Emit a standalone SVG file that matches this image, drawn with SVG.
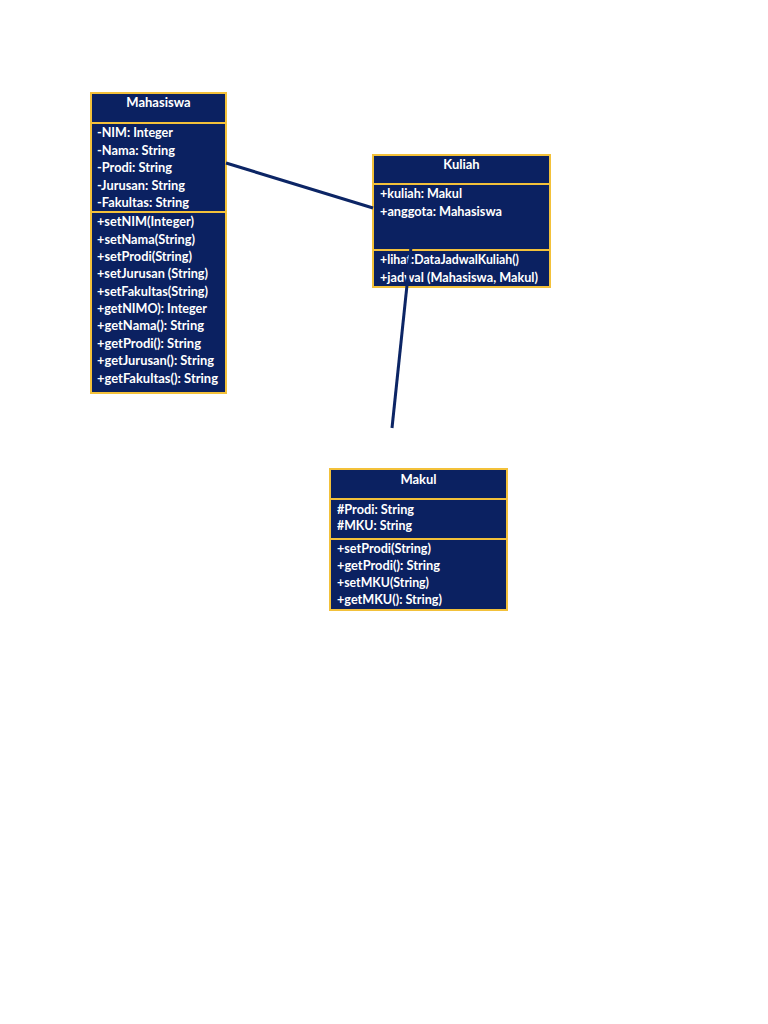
<svg xmlns="http://www.w3.org/2000/svg" width="768" height="1024" viewBox="0 0 768 1024">
<style>
.box{fill:#0b2161;stroke:#f3c13a;stroke-width:2}
.sep{stroke:#f3c13a;stroke-width:2}
.t{font-family:Lato,"Liberation Sans",sans-serif;font-weight:bold;font-size:13px;fill:#ffffff}
.h{text-anchor:middle}
.conn{stroke:#0c2565;stroke-width:3;fill:none}
</style>
<rect width="768" height="1024" fill="#ffffff"/>
<g id="Mahasiswa">
<rect class="box" x="91" y="93" width="135" height="300"/>
<line class="sep" x1="91" y1="123" x2="226" y2="123"/>
<line class="sep" x1="91" y1="212" x2="226" y2="212"/>
<text class="t h" x="158.5" y="107">Mahasiswa</text>
<text class="t" x="97" y="137" textLength="76" lengthAdjust="spacingAndGlyphs">-NIM: Integer</text>
<text class="t" x="97" y="155" textLength="78" lengthAdjust="spacingAndGlyphs">-Nama: String</text>
<text class="t" x="97" y="172" textLength="75" lengthAdjust="spacingAndGlyphs">-Prodi: String</text>
<text class="t" x="97" y="190" textLength="88" lengthAdjust="spacingAndGlyphs">-Jurusan: String</text>
<text class="t" x="97" y="207" textLength="92" lengthAdjust="spacingAndGlyphs">-Fakultas: String</text>
<text class="t" x="97" y="226" textLength="97" lengthAdjust="spacingAndGlyphs">+setNIM(Integer)</text>
<text class="t" x="97" y="244" textLength="98" lengthAdjust="spacingAndGlyphs">+setNama(String)</text>
<text class="t" x="97" y="261" textLength="95" lengthAdjust="spacingAndGlyphs">+setProdi(String)</text>
<text class="t" x="97" y="278" textLength="111" lengthAdjust="spacingAndGlyphs">+setJurusan (String)</text>
<text class="t" x="97" y="296" textLength="111" lengthAdjust="spacingAndGlyphs">+setFakultas(String)</text>
<text class="t" x="97" y="313" textLength="110" lengthAdjust="spacingAndGlyphs">+getNIMO): Integer</text>
<text class="t" x="97" y="330" textLength="107" lengthAdjust="spacingAndGlyphs">+getNama(): String</text>
<text class="t" x="97" y="348" textLength="104" lengthAdjust="spacingAndGlyphs">+getProdi(): String</text>
<text class="t" x="97" y="365" textLength="117" lengthAdjust="spacingAndGlyphs">+getJurusan(): String</text>
<text class="t" x="97" y="383" textLength="121" lengthAdjust="spacingAndGlyphs">+getFakultas(): String</text>
</g>
<g id="Kuliah">
<rect class="box" x="373" y="155" width="177" height="132"/>
<line class="sep" x1="373" y1="184" x2="550" y2="184"/>
<line class="sep" x1="373" y1="250" x2="550" y2="250"/>
<text class="t h" x="461.5" y="169">Kuliah</text>
<text class="t" x="380" y="198" textLength="82" lengthAdjust="spacingAndGlyphs">+kuliah: Makul</text>
<text class="t" x="380" y="216" textLength="122" lengthAdjust="spacingAndGlyphs">+anggota: Mahasiswa</text>
<text class="t" x="380" y="264" textLength="139" lengthAdjust="spacingAndGlyphs">+lihat:DataJadwalKuliah()</text>
<text class="t" x="380" y="282" textLength="158" lengthAdjust="spacingAndGlyphs">+jadwal (Mahasiswa, Makul)</text>
</g>
<g id="Makul">
<rect class="box" x="330" y="469" width="177" height="141"/>
<line class="sep" x1="330" y1="499" x2="507" y2="499"/>
<line class="sep" x1="330" y1="539" x2="507" y2="539"/>
<text class="t h" x="418.5" y="484">Makul</text>
<text class="t" x="337" y="514" textLength="77" lengthAdjust="spacingAndGlyphs">#Prodi: String</text>
<text class="t" x="337" y="530" textLength="75" lengthAdjust="spacingAndGlyphs">#MKU: String</text>
<text class="t" x="337" y="553" textLength="94" lengthAdjust="spacingAndGlyphs">+setProdi(String)</text>
<text class="t" x="337" y="570" textLength="103" lengthAdjust="spacingAndGlyphs">+getProdi(): String</text>
<text class="t" x="337" y="587" textLength="92" lengthAdjust="spacingAndGlyphs">+setMKU(String)</text>
<text class="t" x="337" y="604" textLength="105" lengthAdjust="spacingAndGlyphs">+getMKU(): String)</text>
</g>
<g id="connectors">
<line class="conn" x1="226" y1="163" x2="373" y2="208"/>
<line class="conn" x1="411" y1="247" x2="392" y2="428"/>
</g>
</svg>
